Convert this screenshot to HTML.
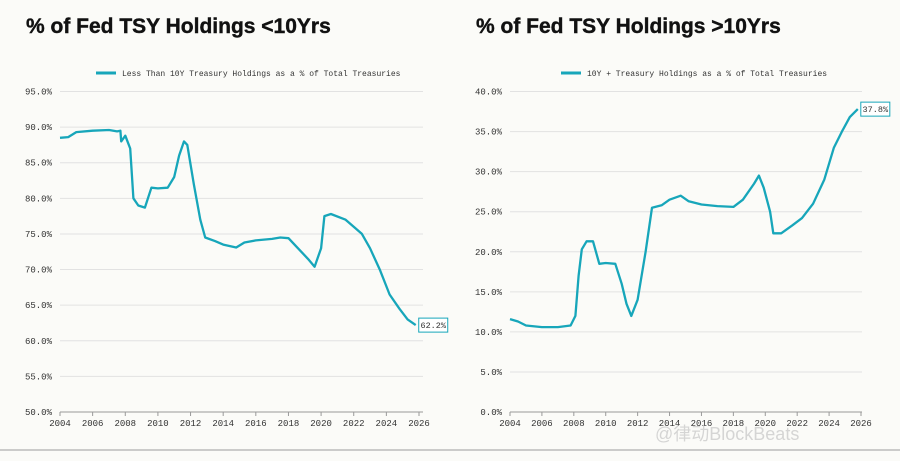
<!DOCTYPE html>
<html><head><meta charset="utf-8"><style>
body{margin:0;background:#fbfbf8;width:900px;height:461px;overflow:hidden;font-family:"Liberation Sans",sans-serif}
svg{position:absolute;left:0;top:0}
</style></head><body>
<svg width="900" height="461">
<rect width="900" height="461" fill="#fbfbf8"/>
<text x="26" y="33" font-size="21" font-weight="bold" fill="#111" stroke="#111" stroke-width="0.4">% of Fed TSY Holdings &lt;10Yrs</text>
<text x="476" y="33" font-size="21" font-weight="bold" fill="#111" stroke="#111" stroke-width="0.4">% of Fed TSY Holdings &gt;10Yrs</text>
<line x1="0" y1="450" x2="900" y2="450" stroke="#bbb" stroke-width="1.5"/>
<g id="L"></g><g id="R"></g>
<text x="655" y="440" font-size="18" fill="#ccc" opacity="0.8" font-family="'Liberation Sans','Noto Sans CJK SC',sans-serif">@律动BlockBeats</text>
</svg>
<script>
const xTicks=[2004,2006,2008,2010,2012,2014,2016,2018,2020,2022,2024,2026];
const leftYTicks=[50,55,60,65,70,75,80,85,90,95];
const rightYTicks=[0,5,10,15,20,25,30,35,40];
const leftYears=[2004,2004.5,2005,2006,2007,2007.5,2007.7,2007.75,2008,2008.3,2008.5,2008.8,2009.2,2009.6,2010,2010.6,2011,2011.3,2011.6,2011.8,2012.2,2012.6,2012.9,2013.5,2014,2014.8,2015.3,2016,2017,2017.5,2018,2018.5,2019.2,2019.6,2020,2020.2,2020.6,2021.5,2022,2022.5,2023,2023.6,2024.2,2024.8,2025.3,2025.8];
const leftValues=[88.5,88.6,89.3,89.5,89.6,89.4,89.5,88,88.8,87,80,79,78.7,81.5,81.4,81.5,83,86,88,87.5,82,77,74.5,74,73.5,73.1,73.8,74.1,74.3,74.5,74.4,73.2,71.5,70.4,73,77.5,77.8,77,76,75,73,70,66.5,64.5,63,62.2];
const rightYears=[2004,2004.5,2005,2006,2007,2007.8,2008.1,2008.3,2008.5,2008.8,2009.2,2009.6,2010,2010.6,2011,2011.3,2011.6,2012,2012.5,2012.9,2013.5,2014,2014.7,2015.2,2016,2017,2018,2018.6,2019.3,2019.6,2019.9,2020.3,2020.5,2021,2021.7,2022.3,2023,2023.7,2024.3,2024.8,2025.3,2025.8];
const rightValues=[11.6,11.3,10.8,10.6,10.6,10.8,12,17,20.3,21.3,21.3,18.5,18.6,18.5,16,13.5,12,14,20,25.5,25.8,26.5,27,26.3,25.9,25.7,25.6,26.5,28.5,29.5,28,25,22.3,22.3,23.3,24.2,26,29,33,35,36.8,37.8];
const NS='http://www.w3.org/2000/svg';
function mk(p,t,a){const e=document.createElementNS(NS,t);for(const k in a)e.setAttribute(k,a[k]);p.appendChild(e);return e;}
function chart(g,o){
  const xs=v=>o.x0+(v-2004)/(22)*(o.x1-o.x0);
  const ys=v=>o.yb-(v-o.ymin)/(o.ymax-o.ymin)*(o.yb-o.yt);
  o.yt_.forEach(t=>{
    const l=mk(g,'line',{x1:o.x0,x2:o.gx,y1:ys(t),y2:ys(t),stroke:t===o.ymin?'#999':'#e2e2e2','stroke-width':1});
    
    
    const tx=mk(g,'text',{x:o.x0-8,y:ys(t)+3,'text-anchor':'end','font-size':9,fill:'#333','font-family':'Liberation Mono,monospace'});
    tx.textContent=t.toFixed(1)+'%';
    
    
  });
  xTicks.forEach(t=>{
    mk(g,'line',{x1:xs(t),x2:xs(t),y1:o.yb,y2:o.yb+4,stroke:'#999'});
    const tx=mk(g,'text',{x:xs(t),y:o.yb+14,'text-anchor':'middle','font-size':9,fill:'#333','font-family':'Liberation Mono,monospace'});
    tx.textContent=t;
    
    
  });
  const d=o.xv.map((x,i)=>(i?'L':'M')+xs(x).toFixed(1)+','+ys(o.yv[i]).toFixed(1)).join('');
  const p=mk(g,'path',{d:d,fill:'none',stroke:'#17a6ba','stroke-width':2.3,'stroke-linejoin':'round'});
  
  
  const lx=xs(o.xv[o.xv.length-1]),ly=ys(o.yv[o.yv.length-1]);
  const lab=o.yv[o.yv.length-1].toFixed(1)+'%';
  const r=mk(g,'rect',{x:lx+3,y:ly-7,width:29,height:14,fill:'#fff',stroke:'#17a6ba','stroke-width':1});
  
  
  const bt=mk(g,'text',{x:lx+17.5,y:ly+3,'text-anchor':'middle','font-size':8.5,fill:'#333','font-family':'Liberation Mono,monospace'});
  bt.textContent=lab;
  mk(g,'line',{x1:o.lgx,x2:o.lgx+20,y1:73,y2:73,stroke:'#17a6ba','stroke-width':3});
  const lt=mk(g,'text',{x:o.lgx+26,y:76,'font-size':8,fill:'#333','font-family':'Liberation Mono,monospace'});
  lt.textContent=o.legend;
  
  
}
chart(document.getElementById('L'),{x0:60,x1:419,gx:423,yt:91.5,yb:412,ymin:50,ymax:95,yt_:leftYTicks,xv:leftYears,yv:leftValues,lgx:96,legend:'Less Than 10Y Treasury Holdings as a % of Total Treasuries'});
chart(document.getElementById('R'),{x0:510,x1:861,gx:862,yt:91.5,yb:412,ymin:0,ymax:40,yt_:rightYTicks,xv:rightYears,yv:rightValues,lgx:561,legend:'10Y + Treasury Holdings as a % of Total Treasuries'});
</script>
</body></html>
